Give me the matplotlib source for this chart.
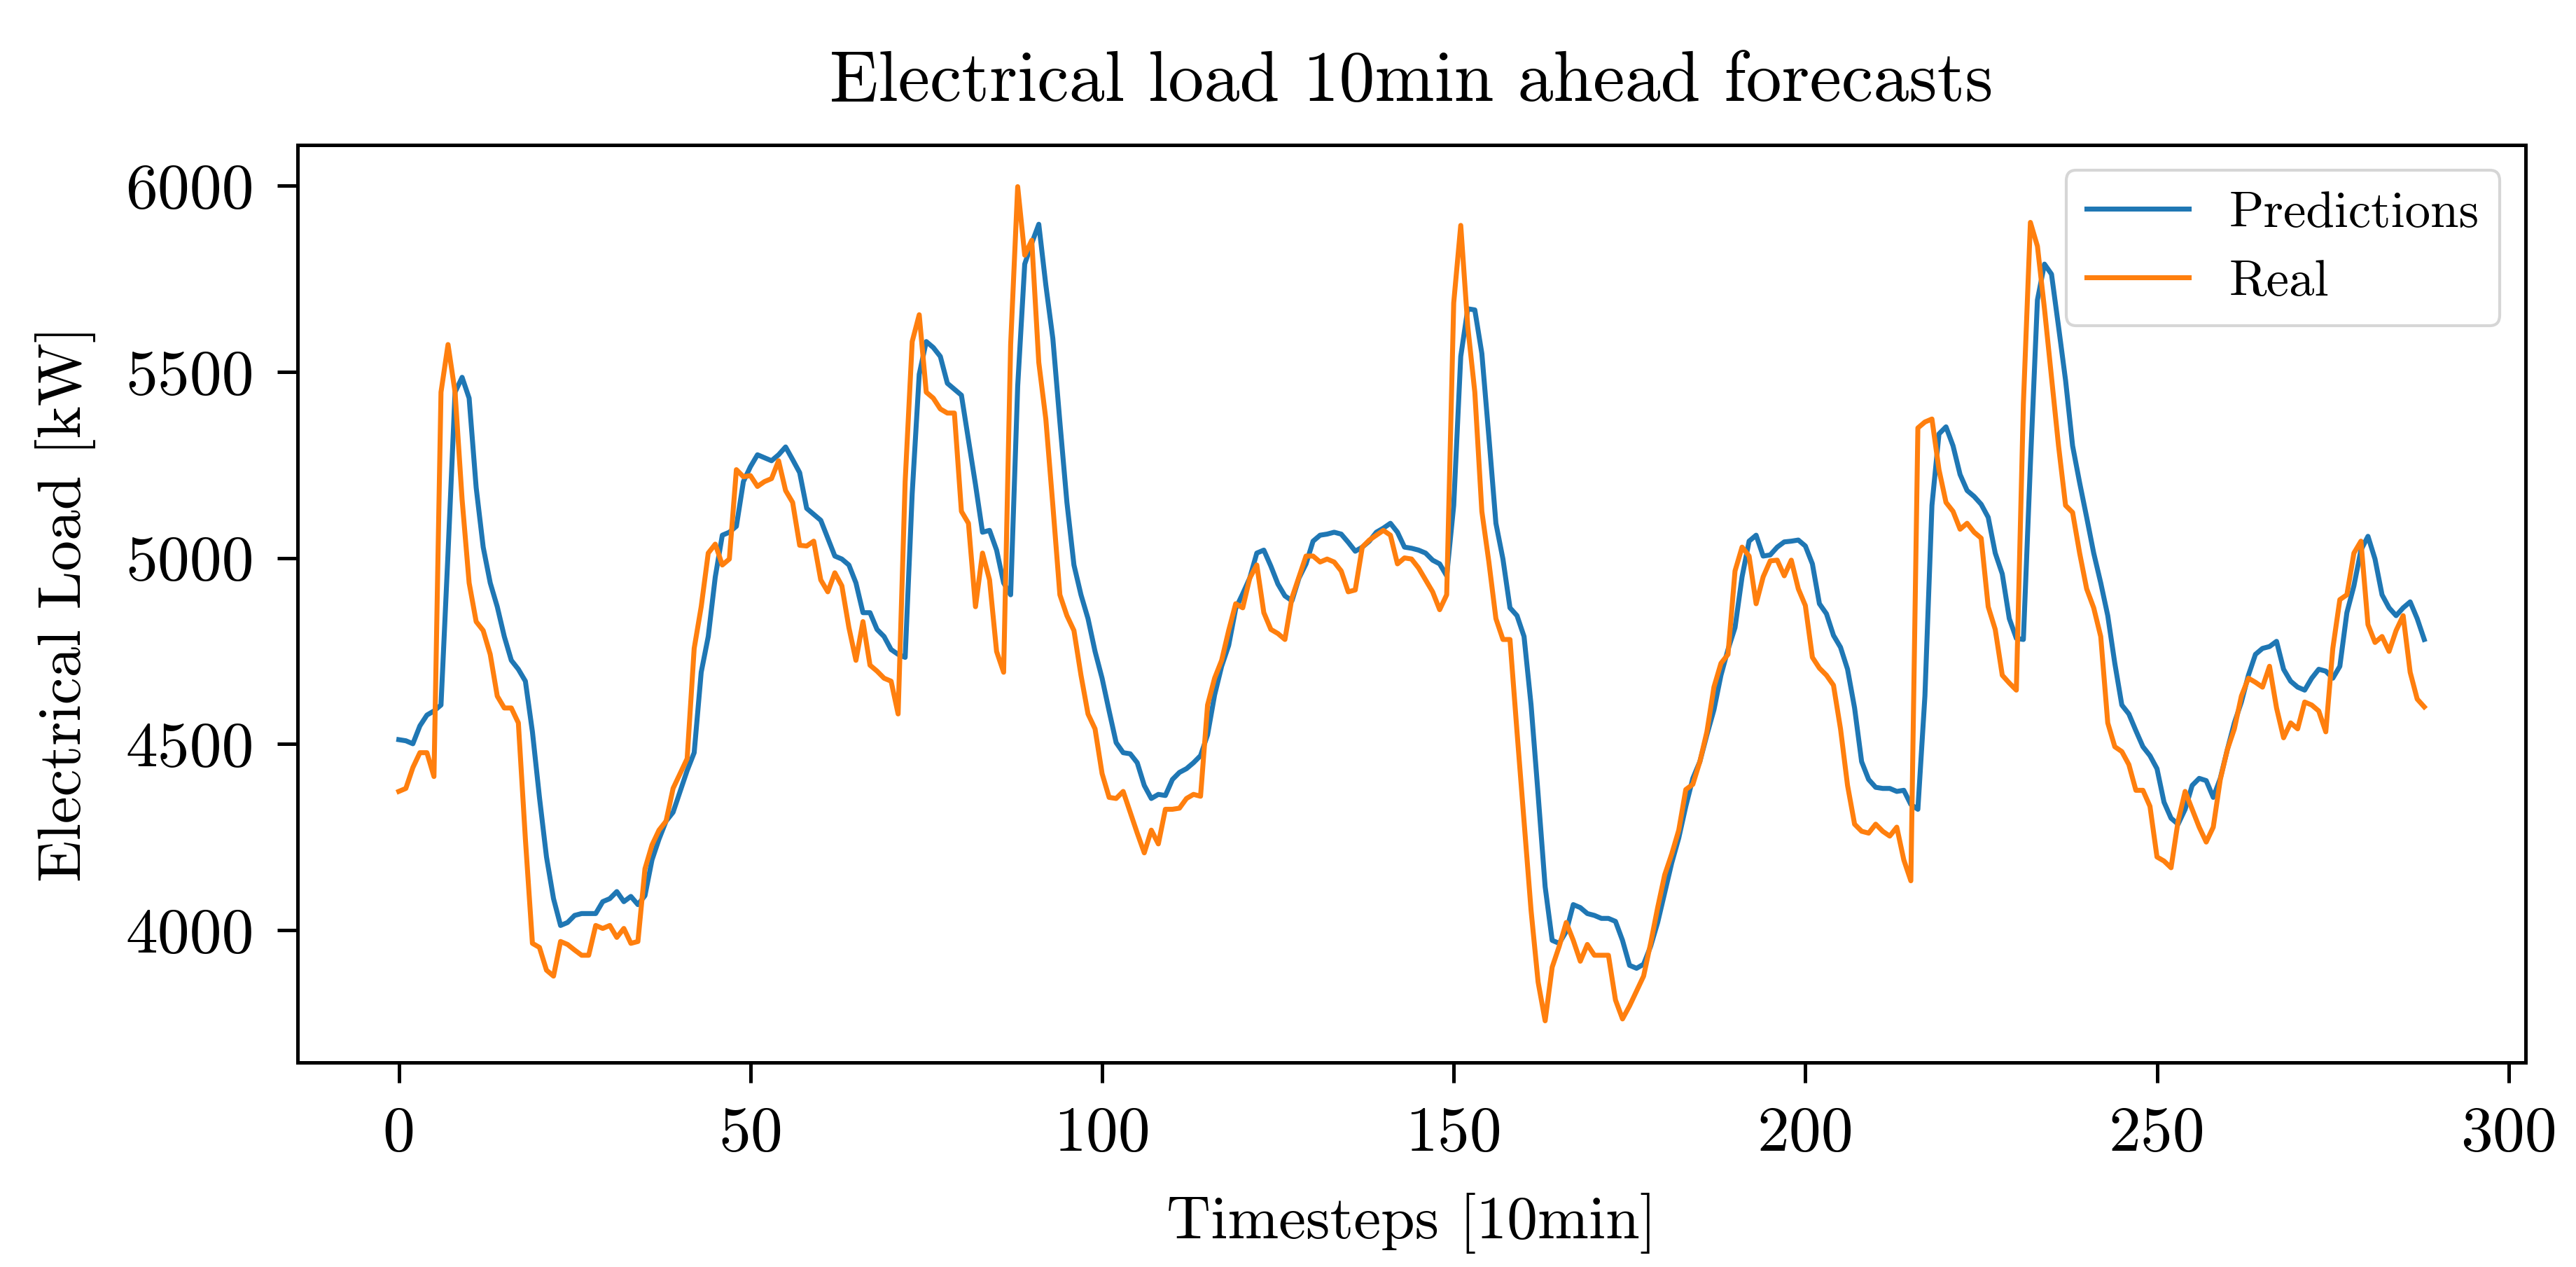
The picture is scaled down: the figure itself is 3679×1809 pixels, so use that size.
import matplotlib
matplotlib.use("Agg")
import matplotlib.pyplot as plt
import numpy as np

plt.rcParams['font.family'] = 'serif'
plt.rcParams['font.serif'] = ['cmr10', 'DejaVu Serif']
plt.rcParams['mathtext.fontset'] = 'cm'
plt.rcParams['axes.unicode_minus'] = False
plt.rcParams['axes.formatter.use_mathtext'] = False

# Timesteps (10 min)
timesteps = np.arange(289)

predictions = [
    4512, 4509, 4501, 4549, 4578, 4589, 4605, 5013, 5445, 5485,
    5429, 5189, 5029, 4933, 4869, 4789, 4725, 4701, 4669, 4533,
    4357, 4197, 4085, 4013, 4021, 4040, 4045, 4045, 4045, 4077,
    4085, 4104, 4077, 4091, 4069, 4093, 4189, 4245, 4293, 4317,
    4373, 4429, 4477, 4693, 4789, 4949, 5061, 5069, 5085, 5205,
    5245, 5277, 5269, 5261, 5277, 5298, 5264, 5229, 5133, 5117,
    5101, 5053, 5005, 4997, 4981, 4933, 4853, 4853, 4808, 4789,
    4754, 4741, 4733, 5173, 5493, 5581, 5565, 5541, 5469, 5453,
    5437, 5317, 5197, 5069, 5074, 5021, 4933, 4901, 5461, 5789,
    5845, 5896, 5733, 5589, 5365, 5149, 4981, 4901, 4837, 4749,
    4677, 4589, 4504, 4477, 4474, 4450, 4389, 4354, 4365, 4362,
    4405, 4424, 4434, 4450, 4469, 4525, 4632, 4709, 4765, 4864,
    4904, 4946, 5013, 5021, 4978, 4930, 4898, 4885, 4946, 4984,
    5045, 5061, 5064, 5069, 5064, 5042, 5018, 5029, 5045, 5069,
    5080, 5093, 5069, 5029, 5026, 5021, 5013, 4994, 4984, 4952,
    5141, 5541, 5669, 5666, 5549, 5325, 5093, 4997, 4866, 4845,
    4789, 4605, 4365, 4117, 3973, 3965, 3997, 4069, 4061, 4045,
    4040, 4032, 4032, 4024, 3973, 3906, 3898, 3909, 3957, 4021,
    4101, 4181, 4248, 4333, 4408, 4453, 4525, 4592, 4685, 4754,
    4813, 4949, 5045, 5061, 5005, 5008, 5029, 5043, 5045, 5048,
    5032, 4984, 4877, 4850, 4792, 4760, 4701, 4597, 4453, 4405,
    4384, 4381, 4381, 4373, 4376, 4338, 4325, 4629, 5141, 5333,
    5352, 5301, 5224, 5181, 5165, 5144, 5109, 5013, 4957, 4837,
    4784, 4781, 5253, 5693, 5789, 5762, 5621, 5477, 5301, 5202,
    5109, 5013, 4933, 4845, 4717, 4605, 4581, 4536, 4493, 4469,
    4434, 4344, 4301, 4285, 4325, 4389, 4408, 4402, 4357, 4408,
    4485, 4557, 4613, 4685, 4741, 4757, 4762, 4776, 4701, 4669,
    4653, 4645, 4677, 4701, 4696, 4677, 4709, 4853, 4925, 5021,
    5058, 4997, 4901, 4866, 4845, 4866, 4882, 4837, 4781,
]

real = [
    4373, 4381, 4437, 4477, 4477, 4413, 5445, 5573, 5445, 5157,
    4933, 4829, 4805, 4741, 4629, 4597, 4597, 4557, 4245, 3965,
    3954, 3893, 3877, 3970, 3962, 3947, 3933, 3933, 4013, 4005,
    4013, 3981, 4005, 3965, 3970, 4165, 4229, 4269, 4293, 4381,
    4421, 4461, 4757, 4869, 5013, 5037, 4981, 4997, 5237, 5218,
    5221, 5192, 5205, 5213, 5261, 5181, 5149, 5034, 5032, 5045,
    4941, 4909, 4960, 4925, 4813, 4725, 4829, 4712, 4696, 4677,
    4669, 4581, 5205, 5581, 5653, 5445, 5429, 5400, 5389, 5389,
    5125, 5093, 4869, 5013, 4941, 4749, 4693, 5573, 5997, 5813,
    5853, 5525, 5373, 5141, 4901, 4845, 4805, 4685, 4581, 4541,
    4421, 4357, 4354, 4373, 4317, 4261, 4208, 4269, 4232, 4325,
    4325, 4328, 4354, 4365, 4360, 4605, 4677, 4725, 4805, 4877,
    4866, 4946, 4981, 4853, 4808, 4797, 4781, 4893, 4949, 5005,
    5005, 4989, 4997, 4989, 4965, 4909, 4914, 5029, 5048, 5061,
    5074, 5061, 4984, 5000, 4997, 4973, 4941, 4909, 4861, 4901,
    5685, 5893, 5621, 5445, 5125, 4989, 4837, 4781, 4781, 4533,
    4293, 4053, 3861, 3757, 3901, 3957, 4021, 3973, 3917, 3962,
    3933, 3933, 3933, 3813, 3762, 3797, 3837, 3877, 3965, 4061,
    4149, 4205, 4269, 4378, 4392, 4453, 4533, 4653, 4717, 4741,
    4965, 5029, 5005, 4877, 4949, 4992, 4994, 4952, 4994, 4917,
    4872, 4733, 4704, 4685, 4658, 4541, 4389, 4285, 4266, 4261,
    4285, 4266, 4253, 4277, 4189, 4133, 5349, 5365, 5373, 5237,
    5149, 5125, 5077, 5093, 5069, 5053, 4869, 4808, 4685, 4664,
    4645, 5413, 5901, 5837, 5669, 5485, 5301, 5141, 5122, 5013,
    4917, 4866, 4789, 4557, 4493, 4480, 4445, 4376, 4376, 4333,
    4197, 4186, 4168, 4293, 4373, 4325, 4277, 4237, 4277, 4405,
    4485, 4541, 4629, 4677, 4666, 4653, 4709, 4597, 4517, 4557,
    4541, 4613, 4605, 4589, 4533, 4757, 4888, 4901, 5013, 5045,
    4821, 4773, 4789, 4749, 4805, 4845, 4693, 4621, 4600,
]

x_ticks = [0, 50, 100, 150, 200, 250, 300]
y_ticks = [4000, 4500, 5000, 5500, 6000]

fig = plt.figure(figsize=(3679 / 300, 1809 / 300), dpi=300)
ax = fig.add_axes([0.1155, 0.1614, 0.8649, 0.7242])

ax.plot(timesteps, predictions, color='#1f77b4', linewidth=1.7, label='Predictions')
ax.plot(timesteps, real, color='#ff7f0e', linewidth=1.7, label='Real')

ax.set_xticks(x_ticks)
ax.set_yticks(y_ticks)
ax.tick_params(axis='both', labelsize=22, length=7, width=1.2, pad=8)
for s in ax.spines.values():
    s.set_linewidth(1.2)

ax.set_title('Electrical load 10min ahead forecasts', fontsize=24.5, pad=15)
ax.set_xlabel('Timesteps [10min]', fontsize=21, labelpad=10)
ax.set_ylabel('Electrical Load [kW]', fontsize=21, labelpad=10)

ax.legend(loc='upper right', fontsize=17.5, handlelength=2.0, labelspacing=0.45)

fig.savefig('out.png', dpi=300)
